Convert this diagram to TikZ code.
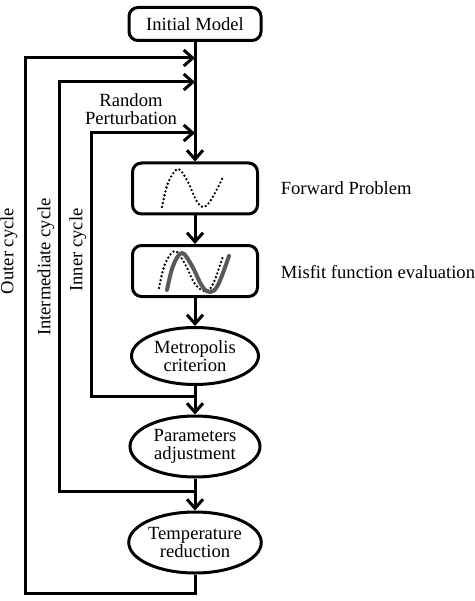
\documentclass[tikz,border=0pt]{standalone}
\usepackage{fontspec}
\setmainfont{Liberation Serif}
\usetikzlibrary{arrows.meta,shapes.geometric}
\begin{document}
\begin{tikzpicture}[x=1pt,y=-1pt,
  line width=3pt,
  every node/.style={font=\fontsize{18.6}{18.6}\selectfont},
  rbox/.style={draw, rounded corners=9pt, inner sep=0pt},
  ebox/.style={draw, ellipse, inner sep=0pt, align=center},
  arr/.style={-{Straight Barb[length=9pt,width=16pt]}},
  dotcurve/.style={line width=2.6pt, line cap=round, dash pattern=on 0pt off 4pt},
  solcurve/.style={line width=4pt, draw=black!65, line cap=round}]
\useasboundingbox (0,0) rectangle (474,601);

% nodes
\node[rbox, minimum width=132pt, minimum height=33pt] (init) at (195,24) {Initial Model};
\node[rbox, minimum width=125pt, minimum height=51pt] (fwd) at (195,188.5) {};
\node[rbox, minimum width=125pt, minimum height=51pt] (mis) at (195,271) {};
\node[ebox, minimum width=127pt, minimum height=57pt] (met) at (195,356) {Metropolis\\criterion};
\node[ebox, minimum width=130pt, minimum height=61pt] (par) at (195,446.5) {Parameters\\adjustment};
\node[ebox, minimum width=132pt, minimum height=61pt] (tem) at (195,542.5) {Temperature\\reduction};

% curves inside boxes
\draw[dotcurve] plot[smooth, tension=0.6] coordinates {(162,207) (168,183) (178,169) (188,182) (196,200) (203,207) (211,200) (223,177)};
\draw[dotcurve] plot[smooth, tension=0.6] coordinates {(159,288) (165,264) (175,251) (185,264) (195,284) (205,291) (213,284) (223,256)};
\draw[solcurve] plot[smooth, tension=0.6] coordinates {(167,290) (173,266) (182,253) (192,266) (202,286) (210,292) (218,285) (229,256)};

% labels
\node[anchor=west] (fp) at (276,188) {Forward Problem};
\node[anchor=west] (mf) at (276,272) {Misfit function evaluation};
\node[align=center] (rp) at (131,109) {Random\\Perturbation};
\node[rotate=90] (lo) at (9,251) {Outer cycle};
\node[rotate=90] (li) at (46,267) {Intermediate cycle};
\node[rotate=90] (ln) at (78,250) {Inner cycle};

% coordinates for cycles
\coordinate (outL) at (25,593);
\coordinate (outIn) at (195,58);
\coordinate (midL) at (59,491);
\coordinate (midIn) at (195,82);
\coordinate (innL) at (91,396);
\coordinate (innIn) at (195,133);

% main flow
\draw[arr] (init.south) -- (fwd.north);
\draw[arr] (fwd.south) -- (mis.north);
\draw[arr] (mis.south) -- (met.north);
\draw[arr] (met.south) -- (par.north);
\draw[arr] (par.south) -- (tem.north);

% cycles
\draw[arr] (tem.south) |- (outL) |- (outIn);
\draw[arr] (par.south) |- (midL) |- (midIn);
\draw[arr] (met.south) |- (innL) |- (innIn);
\end{tikzpicture}
\end{document}
